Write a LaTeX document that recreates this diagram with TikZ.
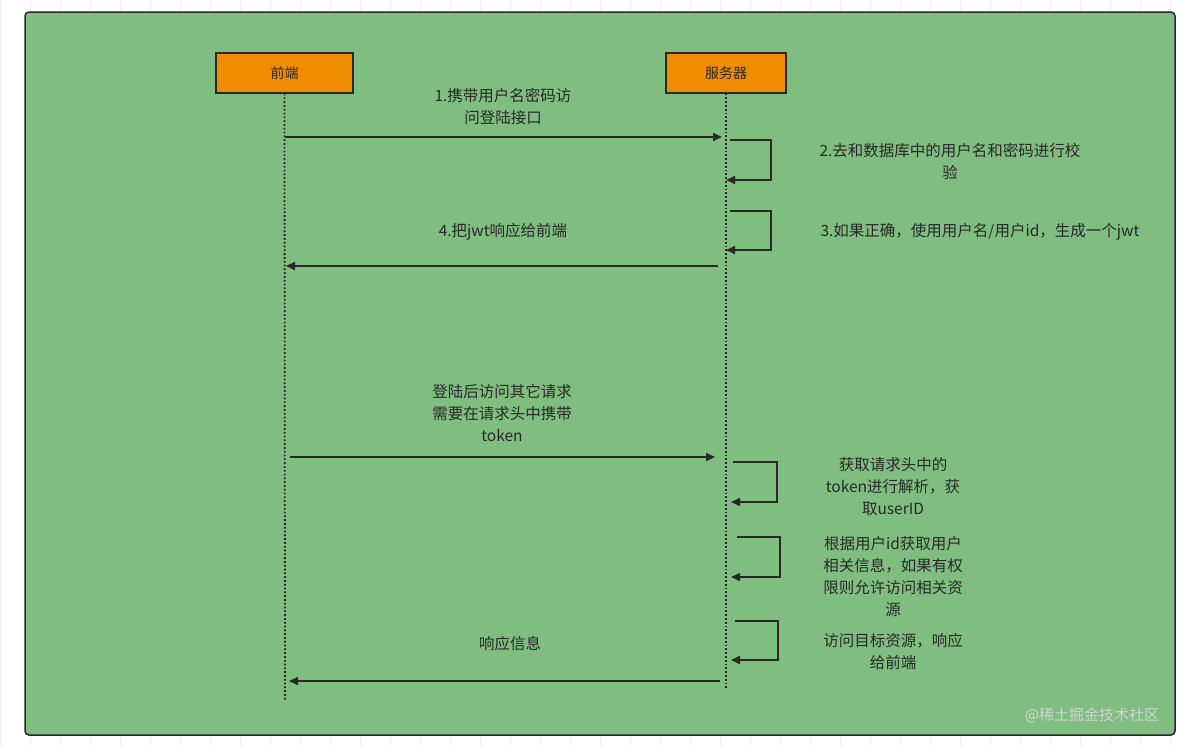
\documentclass[tikz,border=0pt]{standalone}
\usepackage{fontspec}
\setmainfont{Noto Sans CJK SC}
\usetikzlibrary{arrows.meta}
\definecolor{bggreen}{RGB}{127,190,128}
\definecolor{boxorange}{RGB}{240,140,0}
\definecolor{ink}{RGB}{40,40,40}
\tikzset{
  actor/.style={draw=ink,line width=1.2pt,fill=boxorange,minimum width=#1,minimum height=40pt,font=\fontsize{14}{16}\selectfont,text=ink},
  life/.style={draw=ink,line width=1.8pt,dotted},
  msg/.style={draw=ink,line width=1.6pt,-{Triangle[length=9pt,width=8pt]}},
  lbl/.style={align=center,font=\fontsize{15.5}{22}\selectfont,text=ink},
}
\begin{document}
\begin{tikzpicture}[x=1pt,y=-1pt]
\useasboundingbox (0,0) rectangle (1194,747);
\fill[white] (0,0) rectangle (1194,747);
\draw[gray!12,line width=0.6pt] (0,0) grid[step=30] (1194,747);
\draw[ink,line width=1.5pt,fill=bggreen,rounded corners=4pt] (25,12) rectangle (1175,735);
\node[actor=137pt] (fe) at (284.5,73) {前端};
\node[actor=120pt] (sv) at (726,73) {服务器};
\coordinate (feb) at (285,700);
\coordinate (svb) at (726,690);
\draw[life] (fe.south) -- (feb);
\draw[life] (sv.south) -- (svb);
% 1
\coordinate (a1) at (285,137); \coordinate (b1) at (722,137);
\draw[msg] (a1) -- (b1);
\node[lbl] (l1) at (503,107) {1.携带用户名密码访\\问登陆接口};
% 2
\coordinate (s2) at (730,140); \coordinate (e2) at (726,180);
\draw[msg] (s2) -- (771,140) -- (771,180) -- (e2);
\node[lbl] (l2) at (950,161) {2.去和数据库中的用户名和密码进行校\\验};
% 3
\coordinate (s3) at (730,211); \coordinate (e3) at (726,250);
\draw[msg] (s3) -- (771,211) -- (771,250) -- (e3);
\node[lbl] (l3) at (980,232) {3.如果正确，使用用户名/用户id，生成一个jwt};
% 4
\coordinate (a4) at (718,266); \coordinate (b4) at (286,266);
\draw[msg] (a4) -- (b4);
\node[lbl] (l4) at (503,232) {4.把jwt响应给前端};
% 5
\coordinate (a5) at (290,457); \coordinate (b5) at (715,457);
\draw[msg] (a5) -- (b5);
\node[lbl] (l5) at (502,413) {登陆后访问其它请求\\需要在请求头中携带\\token};
% loops
\coordinate (s6) at (733,462); \coordinate (e6) at (731,502);
\draw[msg] (s6) -- (777,462) -- (777,502) -- (e6);
\node[lbl] (l6) at (893,487) {获取请求头中的\\token进行解析，获\\取userID};
\coordinate (s7) at (737,537); \coordinate (e7) at (731,577);
\draw[msg] (s7) -- (780,537) -- (780,577) -- (e7);
\node[lbl] (l7) at (893,577) {根据用户id获取用户\\相关信息，如果有权\\限则允许访问相关资\\源};
\coordinate (s8) at (735,621); \coordinate (e8) at (731,660);
\draw[msg] (s8) -- (778,621) -- (778,660) -- (e8);
\node[lbl] (l8) at (893,652) {访问目标资源，响应\\给前端};
% 6
\coordinate (a9) at (720,681); \coordinate (b9) at (289,681);
\draw[msg] (a9) -- (b9);
\node[lbl] (l9) at (510,644) {响应信息};
\node[font=\fontsize{15}{17}\selectfont,text=gray!35] (wm) at (1092,715) {@稀土掘金技术社区};
\end{tikzpicture}
\end{document}
